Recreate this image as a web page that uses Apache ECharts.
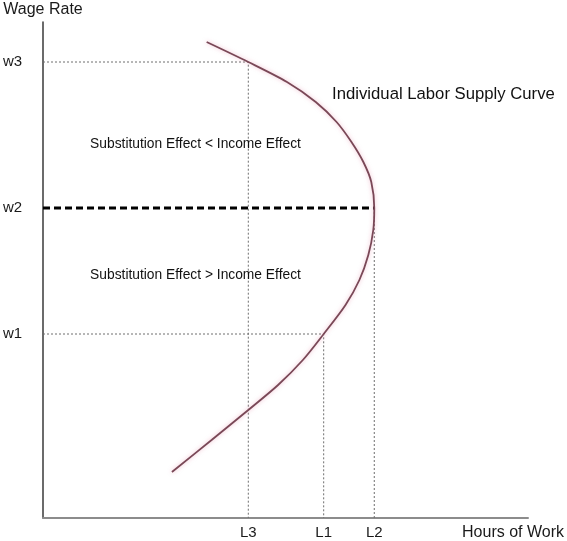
<!DOCTYPE html>
<html>
<head>
<meta charset="utf-8">
<script src="https://cdn.jsdelivr.net/npm/echarts@6/dist/echarts.min.js"></script>
<style>
html,body{margin:0;padding:0;background:#fff;}
#chart{width:567px;height:541px;}
</style>
</head>
<body>
<div id="chart"></div>
<script>
// ---- data (arbitrary units: hours of work / wage rate) ----
const xTickValues = [207, 283, 334];
const xTickLabels = ['L3', 'L1', 'L2'];
const yTickValues = [184, 310, 456];
const yTickLabels = ['w1', 'w2', 'w3'];

// Backward-bending labor supply curve (hours, wage)
const supplyHours = [165, 207, 246, 275, 296, 311, 323, 331, 334, 333, 328, 319, 305, 283, 262, 237, 207, 170, 130];
const supplyWage  = [476, 456, 436, 416, 396, 376, 356, 336, 310, 288, 263, 238, 213, 184, 158, 133, 108, 78, 46];

// Reference points (L, w) for the guide lines
const refW3 = [207, 456];
const refW2 = [334, 310];
const refW1 = [283, 184];

// Text annotations (anchor hours, wage, text)
const noteHours = [47, 47, 291];
const noteWage  = [374, 243, 424];
const noteText  = ['Substitution Effect < Income Effect', 'Substitution Effect > Income Effect', 'Individual Labor Supply Curve'];

const X_MAX = 489, Y_MAX = 496;

const FONT = '"Liberation Sans", Arial, Helvetica, sans-serif';
const chart = echarts.init(document.getElementById('chart'), null, {renderer: 'canvas'});

const curveData = supplyHours.map((h, i) => [h, supplyWage[i]]);
const notesData = noteHours.map((h, i) => ({
  value: [h, noteWage[i]], name: noteText[i],
  label: {show: true, position: 'right', distance: 0, color: '#111', opacity: 1, fontFamily: FONT, fontSize: i === 2 ? 16.7 : 13.8}
}));

const dotted = {color: '#6e6e6e', width: 1, type: [2, 2]};

function guide(pts, style) {
  return {type: 'line', data: pts, symbol: 'none', silent: true, lineStyle: style, z: 2};
}

chart.setOption({
  animation: false,
  backgroundColor: '#fff',
  grid: {left: 42, right: 36, top: 22, bottom: 23, containLabel: false},
  xAxis: {
    type: 'value', min: 0, max: X_MAX,
    name: 'Hours of Work', nameLocation: 'end', nameGap: 36,
    nameTextStyle: {align: 'right', verticalAlign: 'top', padding: [7, 0, 0, 0], fontSize: 16, color: '#1a1a1a', fontFamily: FONT},
    axisLine: {show: true, onZero: false, lineStyle: {color: '#8c8c8c', width: 2}},
    axisTick: {show: false},
    splitLine: {show: false},
    axisLabel: {
      customValues: xTickValues, margin: 7, fontSize: 15, color: '#1a1a1a', fontFamily: FONT,
      formatter: v => xTickLabels[xTickValues.indexOf(v)] || ''
    }
  },
  yAxis: {
    type: 'value', min: 0, max: Y_MAX,
    name: 'Wage Rate', nameLocation: 'end', nameGap: 4,
    nameTextStyle: {align: 'center', fontSize: 16, color: '#1a1a1a', fontFamily: FONT},
    axisLine: {show: true, onZero: false, lineStyle: {color: '#3a3a3a', width: 1.5}},
    axisTick: {show: false},
    splitLine: {show: false},
    axisLabel: {
      customValues: yTickValues, margin: 40, align: 'left', fontSize: 15, color: '#1a1a1a', fontFamily: FONT,
      formatter: v => yTickLabels[yTickValues.indexOf(v)] || ''
    }
  },
  series: [
    guide([[0, refW3[1]], refW3, [refW3[0], 0]], dotted),
    guide([[0, refW1[1]], refW1, [refW1[0], 0]], dotted),
    guide([refW2, [refW2[0], 0]], dotted),
    guide([[0, refW2[1]], refW2], {color: '#000', width: 3, type: [7, 4]}),
    {
      type: 'line', data: curveData, symbol: 'none', smooth: 0.3, z: 5,
      lineStyle: {color: '#7a4857', width: 1.8, shadowColor: 'rgba(225,130,160,0.55)', shadowBlur: 4}
    },
    {
      type: 'scatter', data: notesData, symbolSize: 1, silent: true, z: 6,
      itemStyle: {color: '#ffffff', opacity: 0},
      label: {show: true, formatter: p => p.name}
    }
  ]
});
</script>
</body>
</html>
